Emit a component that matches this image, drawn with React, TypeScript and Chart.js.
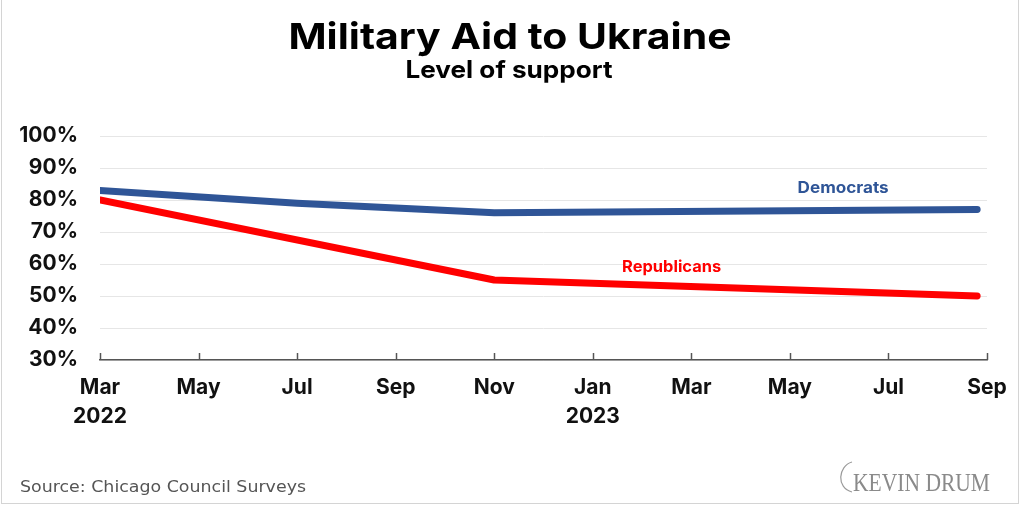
import React, { useEffect, useRef } from "react";
import { Chart, registerables } from "chart.js";

Chart.register(...registerables);

// ---- Data ----
// x = months since March 2022
const demMonths = [0, 4, 8, 17.8];
const demValues = [83, 79, 76, 77];
const repMonths = [0, 8, 17.8];
const repValues = [80, 55, 50];

const xTickMonths = [0, 2, 4, 6, 8, 10, 12, 14, 16, 18];
const xTickLabels = ["Mar", "May", "Jul", "Sep", "Nov", "Jan", "Mar", "May", "Jul", "Sep"];
const xTickYears = ["2022", "", "", "", "", "2023", "", "", "", ""];

const yMin = 30;
const yMax = 100;
const yStep = 10;

const TITLE = "Military Aid to Ukraine";
const SUBTITLE = "Level of support";
const SOURCE = "Source: Chicago Council Surveys";
const LOGO = "KEVIN DRUM";

const DEM_COLOR = "#2F5597";
const REP_COLOR = "#FF0000";

// series name annotations (in data coordinates)
const seriesLabels = [
  { text: "Democrats", x: 15.08, y: 83.8, color: DEM_COLOR },
  { text: "Republicans", x: 11.6, y: 59.1, color: REP_COLOR },
];

const FONT = "Inter, Lato, sans-serif";

function scaledText(ctx: CanvasRenderingContext2D, text: string, cx: number, y: number, sx: number) {
  ctx.save();
  ctx.translate(cx, y);
  ctx.scale(sx, 1);
  ctx.fillText(text, 0, 0);
  ctx.restore();
}

const decorPlugin = {
  id: "decor",
  afterDraw(chart: any) {
    const ctx = chart.ctx as CanvasRenderingContext2D;
    const xs = chart.scales.x;
    const ys = chart.scales.y;
    const area = chart.chartArea;
    ctx.save();
    // inward x ticks
    ctx.strokeStyle = "#555";
    ctx.lineWidth = 1.5;
    xTickMonths.forEach((m) => {
      const px = Math.round(xs.getPixelForValue(m)) + 0.5;
      ctx.beginPath();
      ctx.moveTo(px, area.bottom);
      ctx.lineTo(px, area.bottom - 7);
      ctx.stroke();
    });
    // title + subtitle
    ctx.fillStyle = "#000";
    ctx.textAlign = "center";
    ctx.textBaseline = "alphabetic";
    ctx.font = `bold 36px ${FONT}`;
    const tw = ctx.measureText(TITLE).width;
    scaledText(ctx, TITLE, 510, 49, 443 / tw);
    ctx.font = `bold 24px ${FONT}`;
    const sw = ctx.measureText(SUBTITLE).width;
    scaledText(ctx, SUBTITLE, 509, 78, 207 / sw);
    // series labels
    ctx.font = `bold 16px ${FONT}`;
    ctx.textBaseline = "middle";
    seriesLabels.forEach((l) => {
      ctx.fillStyle = l.color;
      const w = ctx.measureText(l.text).width;
      const target = l.text === "Democrats" ? 91 : 99;
      scaledText(ctx, l.text, xs.getPixelForValue(l.x), ys.getPixelForValue(l.y), target / w);
    });
    // source
    ctx.textAlign = "left";
    ctx.textBaseline = "alphabetic";
    ctx.fillStyle = "#555";
    ctx.font = `15px 'DejaVu Sans', sans-serif`;
    const srw = ctx.measureText(SOURCE).width;
    ctx.save();
    ctx.translate(20, 492);
    ctx.scale(286 / srw, 1);
    ctx.fillText(SOURCE, 0, 0);
    ctx.restore();
    // logo
    ctx.fillStyle = "#8a8a8a";
    ctx.strokeStyle = "#9a9a9a";
    ctx.lineWidth = 1.2;
    ctx.beginPath();
    ctx.moveTo(852, 492);
    ctx.bezierCurveTo(836, 488, 838, 466, 852, 462);
    ctx.stroke();
    ctx.font = `25px 'Liberation Serif', serif`;
    const lw = ctx.measureText(LOGO).width;
    ctx.save();
    ctx.translate(853, 491);
    ctx.scale(137 / lw, 1);
    ctx.fillText(LOGO, 0, 0);
    ctx.restore();
    ctx.restore();
  },
};

export default function App() {
  const ref = useRef<HTMLCanvasElement>(null);
  useEffect(() => {
    if (!ref.current) return;
    const chart = new Chart(ref.current, {
      type: "line",
      data: {
        datasets: [
          {
            label: "Democrats",
            data: demMonths.map((m, i) => ({ x: m, y: demValues[i] })),
            borderColor: DEM_COLOR,
            borderWidth: 7,
            pointRadius: 0,
            borderCapStyle: "round",
            borderJoinStyle: "round",
            tension: 0,
          },
          {
            label: "Republicans",
            data: repMonths.map((m, i) => ({ x: m, y: repValues[i] })),
            borderColor: REP_COLOR,
            borderWidth: 7,
            pointRadius: 0,
            borderCapStyle: "round",
            borderJoinStyle: "round",
            tension: 0,
          },
        ],
      },
      plugins: [decorPlugin],
      options: {
        animation: false,
        responsive: false,
        devicePixelRatio: 1,
        layout: { padding: { top: 136, left: 0, right: 37, bottom: 0 } },
        plugins: {
          legend: { display: false },
          tooltip: { enabled: false },
          title: { display: false },
        },
        scales: {
          x: {
            type: "linear",
            min: 0,
            max: 18,
            afterFit: (s: any) => {
              s.height = 145;
            },
            afterBuildTicks: (s: any) => {
              s.ticks = xTickMonths.map((v) => ({ value: v }));
            },
            grid: { display: false, drawTicks: false },
            border: { display: true, color: "#555", width: 1.5 },
            ticks: {
              padding: 14,
              maxRotation: 0,
              autoSkip: false,
              color: "#111",
              font: { family: FONT, size: 21, weight: "bold", lineHeight: 1.35 },
              callback: (_v: any, i: number) =>
                xTickYears[i] ? [xTickLabels[i], xTickYears[i]] : xTickLabels[i],
            },
          },
          y: {
            min: yMin,
            max: yMax,
            afterFit: (s: any) => {
              s.width = 100;
            },
            grid: { color: "#e6e6e6", lineWidth: 1, drawTicks: false },
            border: { display: false },
            ticks: {
              stepSize: yStep,
              padding: 22,
              color: "#111",
              font: { family: FONT, size: 21, weight: "bold" },
              callback: (v: any) => `${v}%`,
            },
          },
        },
      },
    } as any);
    return () => chart.destroy();
  }, []);
  return (
    <div
      style={{
        position: "fixed",
        left: 0,
        top: 0,
        width: 1024,
        height: 505,
        background: "#fff",
      }}
    >
      <canvas ref={ref} width={1024} height={505} style={{ display: "block" }} />
      <div
        style={{
          position: "absolute",
          left: 1,
          top: 0,
          width: 1018,
          height: 504,
          border: "1px solid #d4d4d4",
          borderTop: "none",
          boxSizing: "border-box",
          pointerEvents: "none",
        }}
      />
    </div>
  );
}
